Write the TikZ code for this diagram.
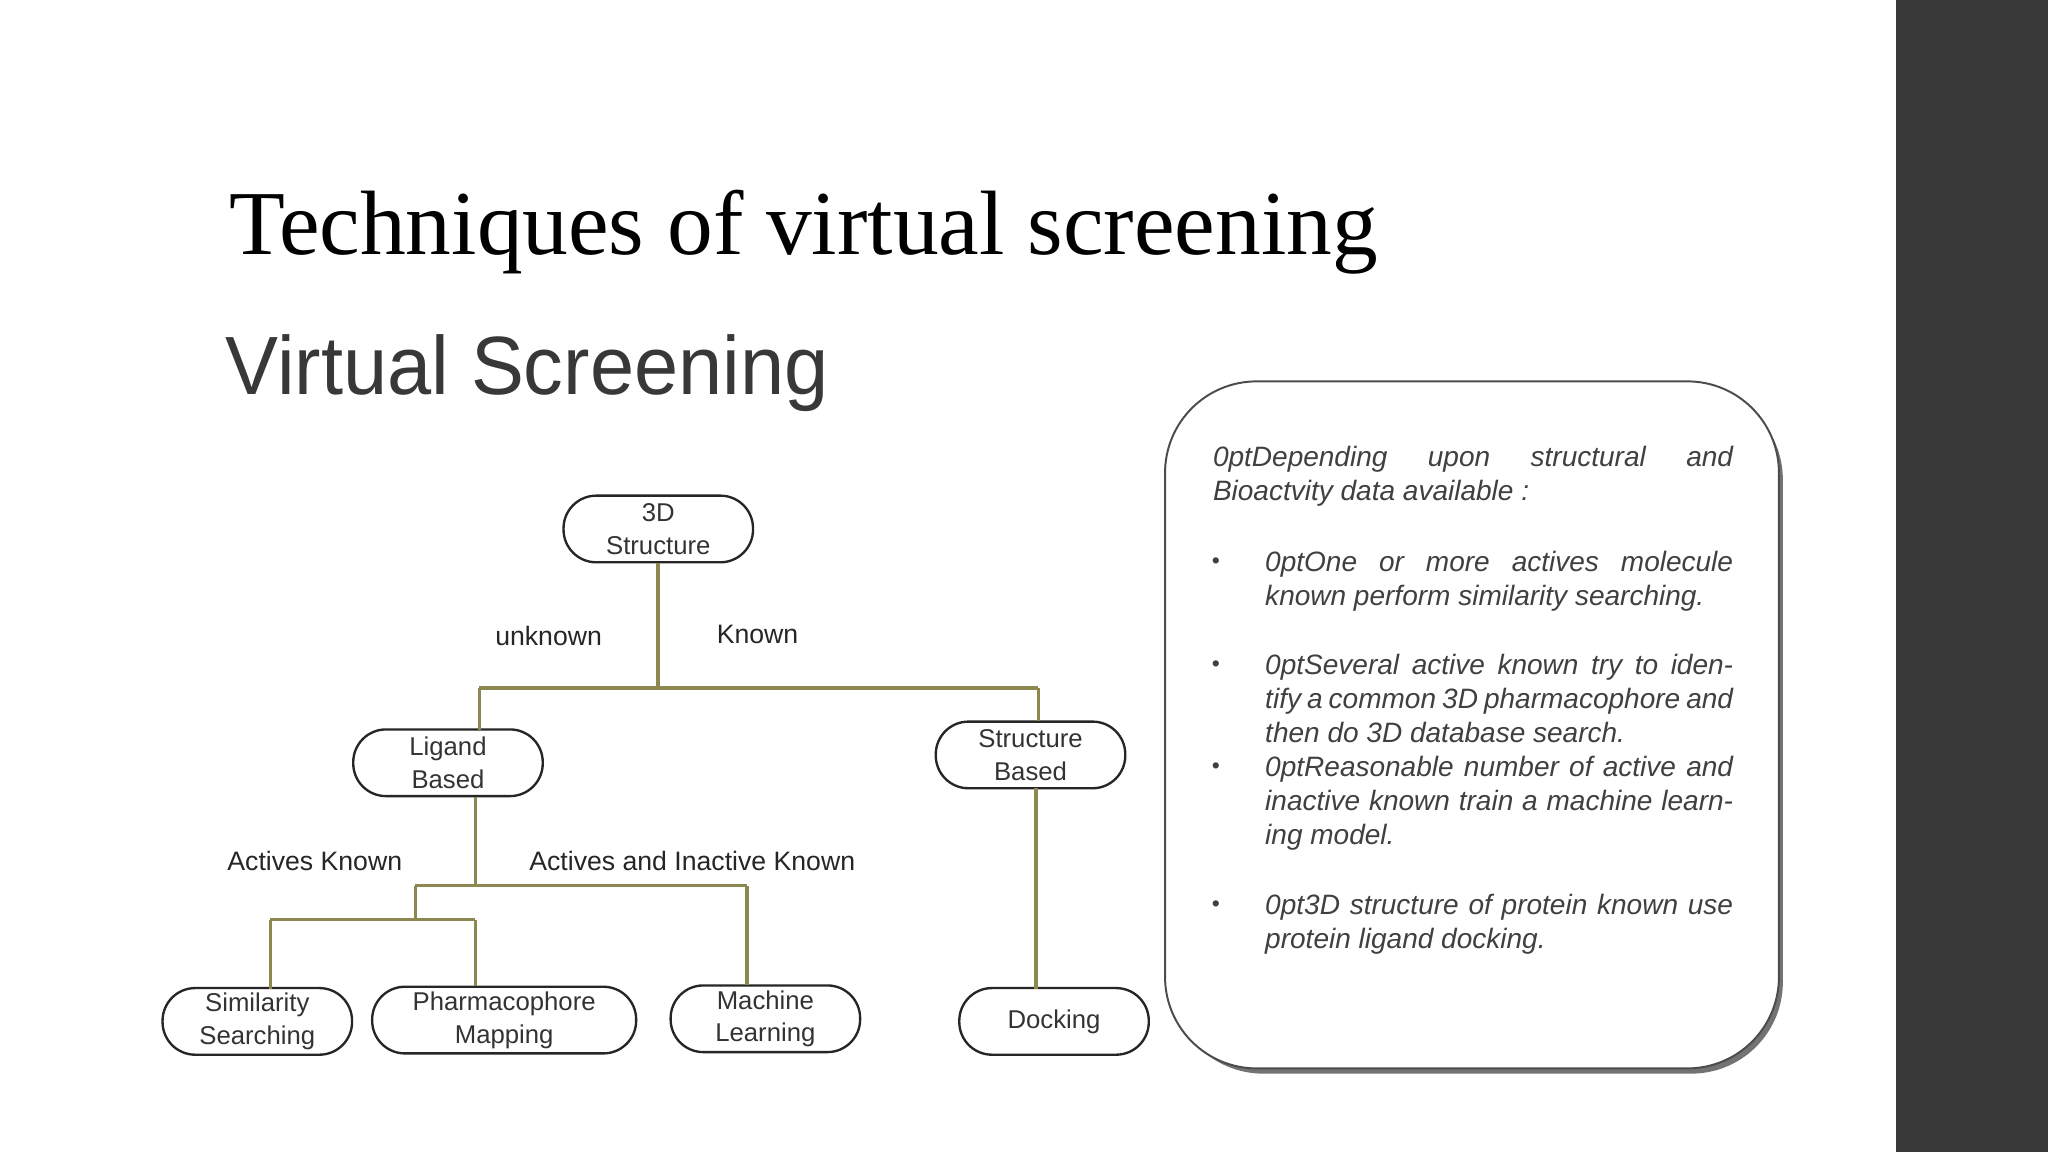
\documentclass[tikz,border=0pt]{standalone}
\usepackage{fontspec}
\setmainfont{Liberation Serif}
\setsansfont{Liberation Sans}
\begin{document}
\begin{tikzpicture}[x=0.01cm,y=-0.01cm,
  box/.style={draw=black!85,line width=0.018cm,rounded corners=0.25cm,minimum width=1.45cm,minimum height=0.51cm,inner sep=0pt,align=center,font=\sffamily\fontsize{5.6pt}{7.1pt}\selectfont,text=black!80},
  lnk/.style={draw={rgb,255:red,140;green,136;blue,80},line width=0.028cm},
  lab/.style={font=\sffamily\fontsize{5.8pt}{7pt}\selectfont,text=black!85},
  ptxt/.style={font=\sffamily\itshape\fontsize{6.1pt}{7.4pt}\selectfont\hyphenpenalty=10000\exhyphenpenalty=10000,text=black!75,anchor=north west,inner sep=0pt,align=justify,text width=3.58cm}]
\useasboundingbox (0,0) rectangle (1568,882);
\fill[white] (0,0) rectangle (1568,882);
\fill[black!78] (1452,0) rectangle (1568,882);
\node[anchor=base west,inner sep=0pt,font=\fontsize{19.9pt}{23pt}\selectfont] (title) at (175,195) {Techniques of virtual screening};
\node[anchor=base west,inner sep=0pt,font=\sffamily\fontsize{18pt}{20pt}\selectfont,text=black!78,xscale=0.96] (vs) at (172,302) {Virtual Screening};
% nodes
\node[box] (s3d) at (504,405) {3D\\Structure};
\node[box] (lig) at (343,584) {Ligand\\Based};
\node[box] (stb) at (789,578) {Structure\\Based};
\node[box] (sim) at (197,782) {Similarity\\Searching};
\node[box,minimum width=2.02cm] (pha) at (386,781) {Pharmacophore\\Mapping};
\node[box] (mac) at (586,780) {Machine\\Learning};
\node[box] (doc) at (807,782) {Docking};
% connectors
\coordinate (j1) at (504,527);
\coordinate (j2) at (364,678);
\coordinate (j3) at (318,678);
\coordinate (j4) at (318,704);
\draw[lnk] (s3d.south) -- (j1);
\draw[lnk] (367,527) -- (795,527);
\draw[lnk] (367,527) -- (367,559);
\draw[lnk] (795,527) -- (795,552);
\draw[lnk] (364,610) -- (j2);
\draw[lnk] (318,678) -- (572,678);
\draw[lnk] (j3) -- (j4);
\draw[lnk] (207,704) -- (364,704);
\draw[lnk] (207,704) -- (207,757);
\draw[lnk] (364,704) -- (364,755);
\draw[lnk] (572,678) -- (572,754);
\draw[lnk] (793,603) -- (793,757);
% labels
\node[lab] (l1) at (420,487) {unknown};
\node[lab] (l2) at (580,486) {Known};
\node[lab] (l3) at (241,659) {Actives Known};
\node[lab] (l4) at (530,659) {Actives and Inactive Known};
% panel
\fill[black!55,rounded corners=0.7cm] (897,297) rectangle (1365,822);
\draw[black!70,fill=white,line width=0.015cm,rounded corners=0.7cm] (892,292) rectangle (1362,818);
\node[ptxt,text width=3.98cm] (p0) at (928,341) {Depending upon structural and Bioactvity data available :};
\node[ptxt] (b1) at (968,421) {One or more actives molecule known perform similarity searching.};
\node[ptxt] (b2) at (968,500) {Several active known try to identify a common 3D pharmacophore and then do 3D database search.};
\node[ptxt] (b3) at (968,578) {Reasonable number of active and inactive known train a machine learning model.};
\node[ptxt] (b4) at (968,684) {3D structure of protein known use protein ligand docking.};
\foreach \yy in {431,510,588,694} \node[font=\sffamily\fontsize{5pt}{6pt}\selectfont,text=black!75] at (931,\yy) {•};
\end{tikzpicture}
\end{document}
